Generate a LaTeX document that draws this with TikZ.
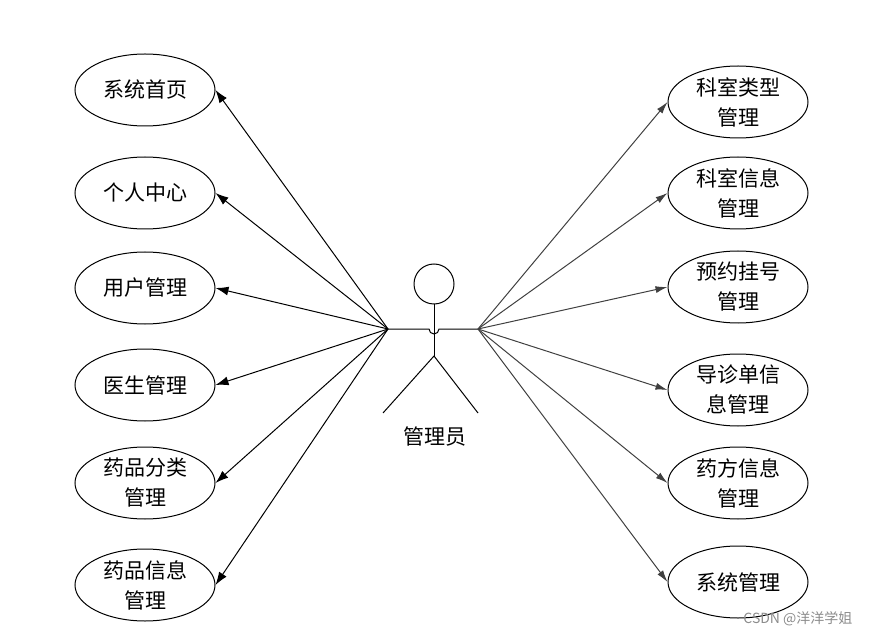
\documentclass[tikz,border=0pt]{standalone}
\usepackage{fontspec}
\newfontfamily\cjk{Noto Sans CJK SC}
\usetikzlibrary{shapes.geometric,arrows.meta}
\begin{document}
\begin{tikzpicture}[x=1pt,y=-1pt,
  uc/.style={ellipse,draw,line width=1pt,minimum width=140pt,minimum height=72pt,inner sep=0pt,align=center,font=\cjk\fontsize{21}{30}\selectfont},
  la/.style={line width=1pt,-{Latex[length=13pt,width=9pt]}},
  ra/.style={line width=1pt,draw=black!75,-{Latex[length=12pt,width=7pt]}}]
\useasboundingbox (0,0) rectangle (870,636);
\node[uc] (l1) at (145,90) {系统首页};
\node[uc] (l2) at (145,193) {个人中心};
\node[uc] (l3) at (145,288) {用户管理};
\node[uc] (l4) at (145,385) {医生管理};
\node[uc] (l5) at (145,483) {药品分类\\管理};
\node[uc] (l6) at (145,585) {药品信息\\管理};
\node[uc] (r1) at (738,102) {科室类型\\管理};
\node[uc] (r2) at (738,193) {科室信息\\管理};
\node[uc] (r3) at (738,287) {预约挂号\\管理};
\node[uc] (r4) at (738,390) {导诊单信\\息管理};
\node[uc] (r5) at (738,483) {药方信息\\管理};
\node[uc] (r6) at (738,582) {系统管理};
% actor
\node[circle,draw,line width=1pt,minimum size=40pt,inner sep=0pt] (head) at (434,284) {};
\coordinate (al) at (388,329);
\coordinate (ar) at (478,329);
\coordinate (hip) at (434,356);
\coordinate (fl) at (383,413);
\coordinate (fr) at (478,413);
\draw[line width=1pt] (head.south) -- (hip);
\draw[line width=1pt] (al) -- (429,329) arc (180:0:5) -- (ar);
\draw[line width=1pt] (fl) -- (hip) -- (fr);
\node[font=\cjk\fontsize{21}{24}\selectfont] (lab) at (435,437) {管理员};
\foreach \i in {1,...,6}{\draw[la] (al) -- (l\i.east);}
\foreach \i in {1,...,6}{\draw[ra] (ar) -- (r\i.west);}
\node[font=\cjk\fontsize{14}{16}\selectfont,text=black!45,anchor=east] (wm) at (856,619) {CSDN @洋洋学姐};
\end{tikzpicture}
\end{document}
